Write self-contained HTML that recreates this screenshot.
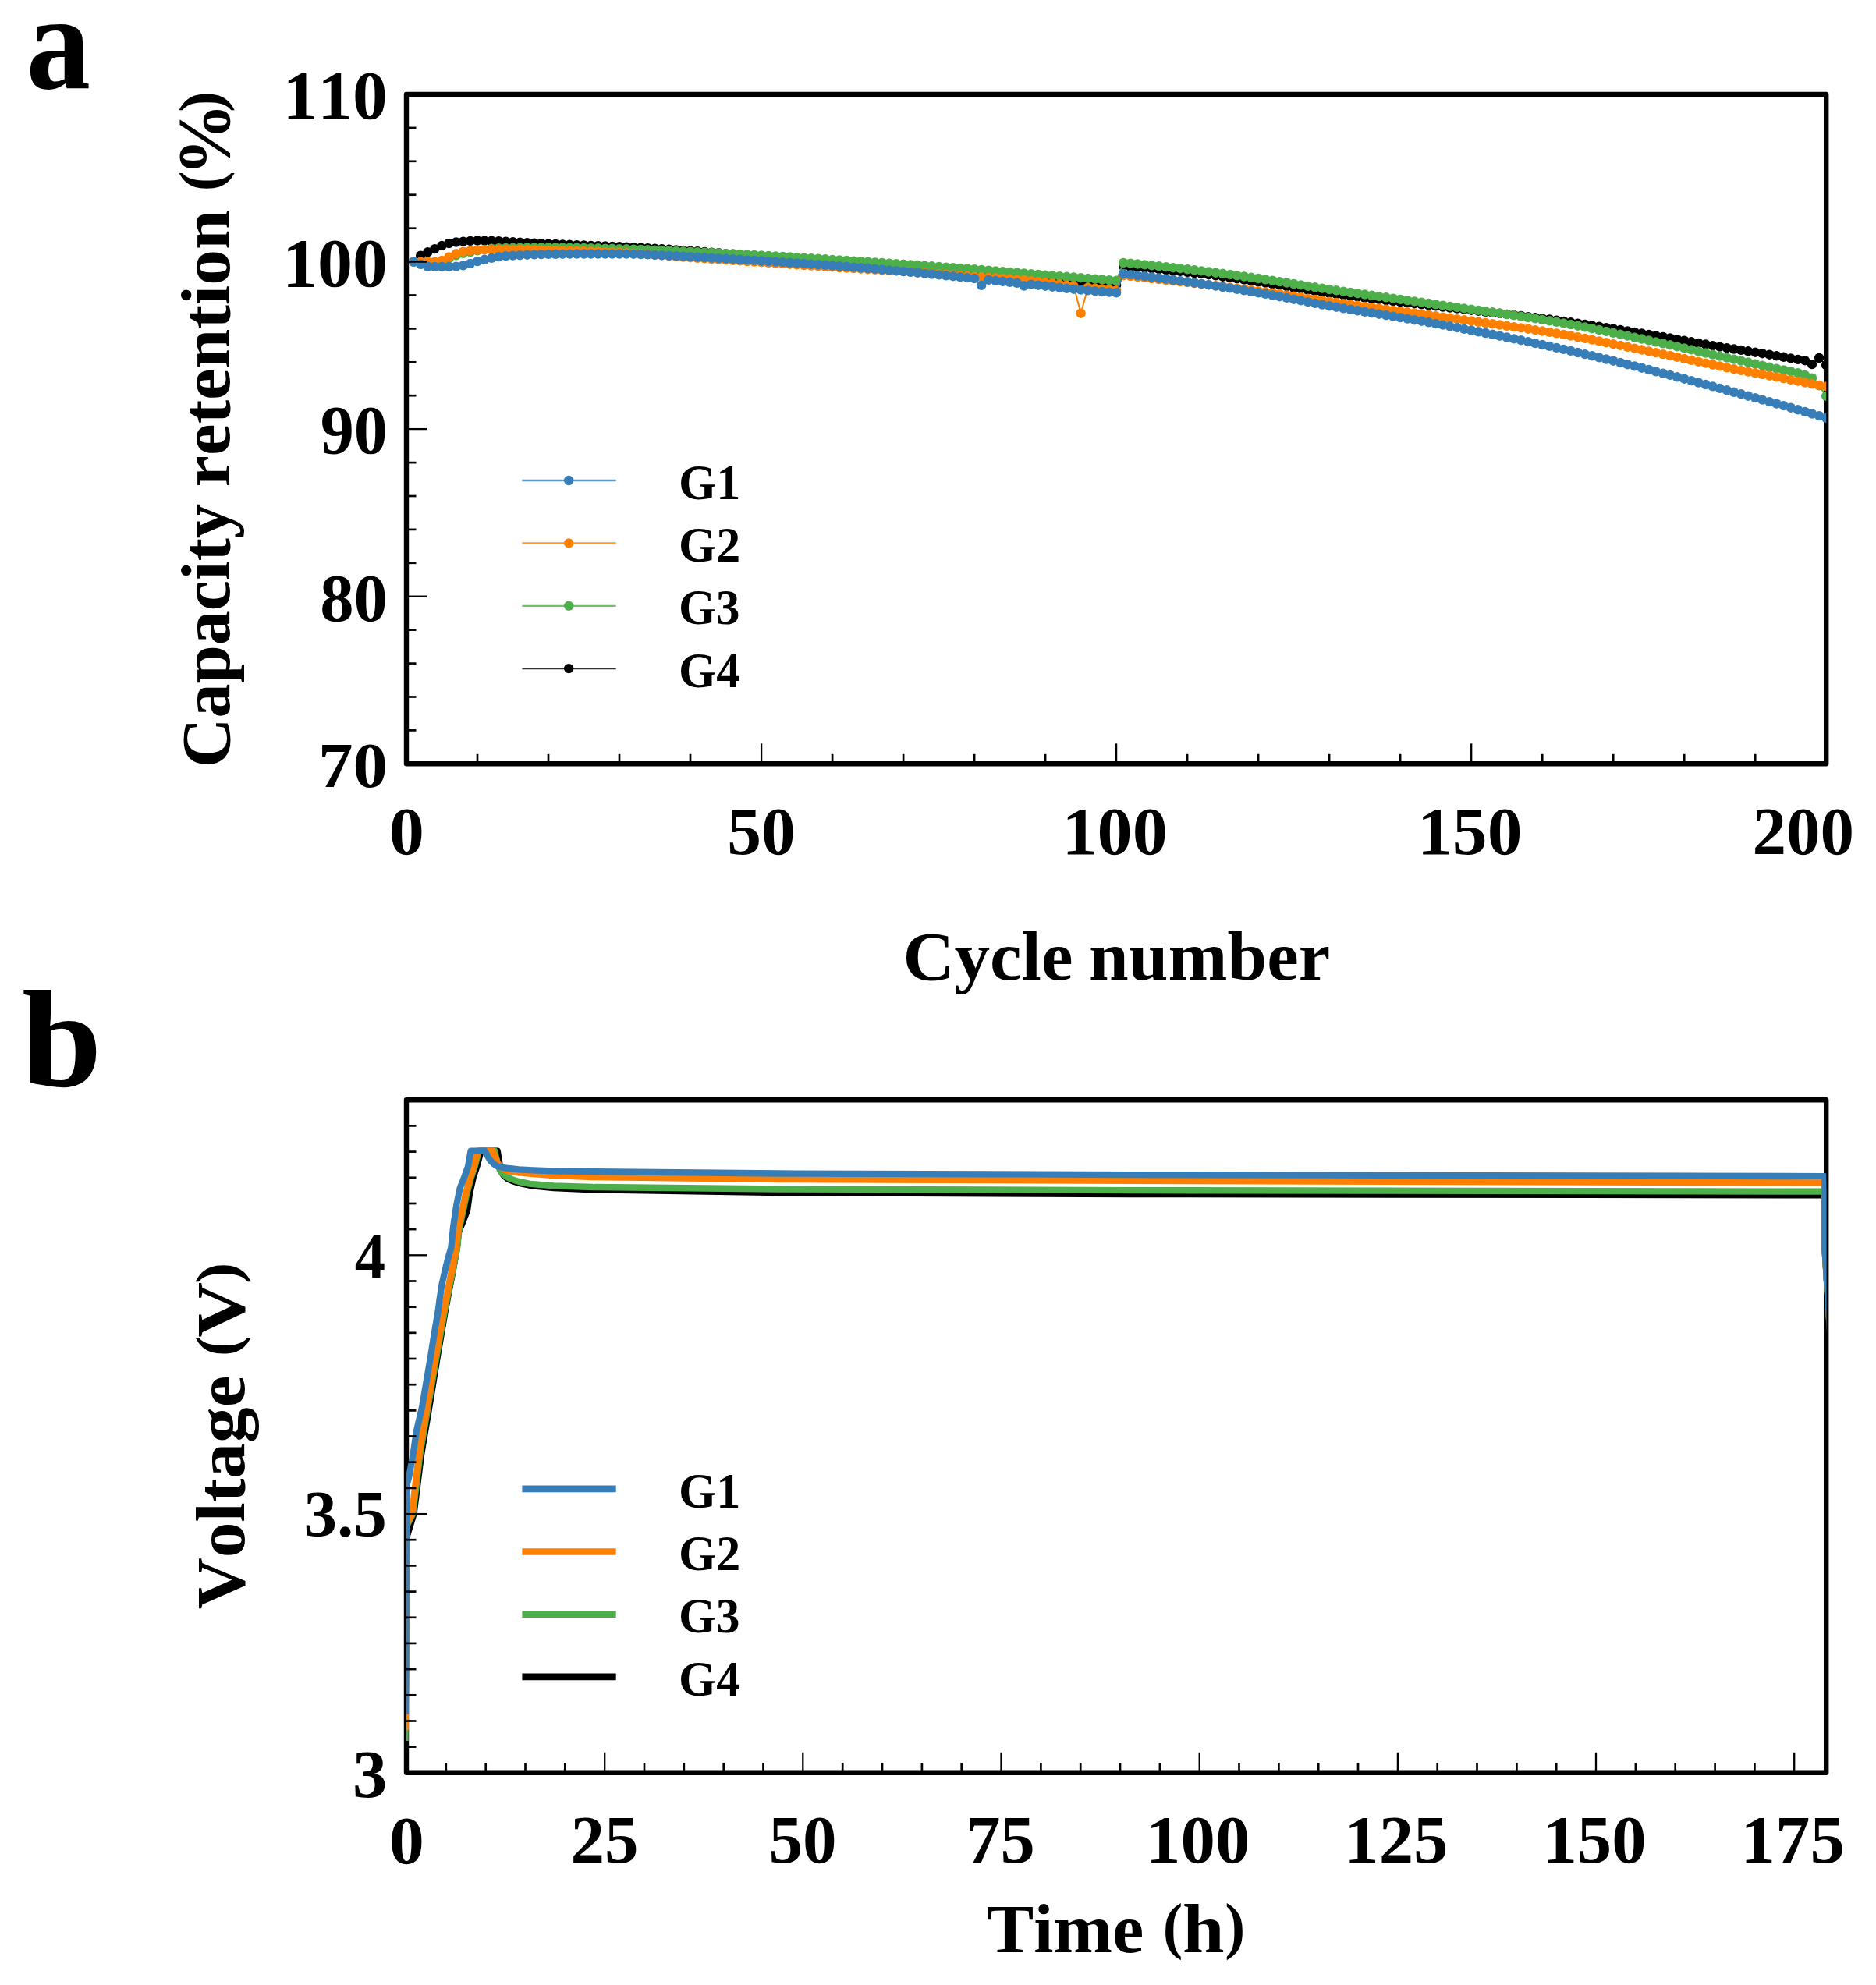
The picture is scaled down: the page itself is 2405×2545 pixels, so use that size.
<!DOCTYPE html>
<html><head><meta charset="utf-8"><title>Figure</title>
<style>html,body{margin:0;padding:0;background:#fff}svg text{font-family:'Liberation Serif', 'DejaVu Serif', serif;font-weight:bold;fill:#000;white-space:pre;font-kerning:none}</style>
</head><body>
<svg width="2405" height="2545" viewBox="0 0 2405 2545" style="display:block">
<rect width="2405" height="2545" fill="#fff"/>
<defs><clipPath id="ca"><rect x="521.0" y="121.0" width="1820.1999999999998" height="858.3"/></clipPath><clipPath id="cb"><rect x="521.0" y="1410.2" width="1820.1999999999998" height="862.6000000000001"/></clipPath></defs>
<rect x="521.0" y="121.0" width="1820.1999999999998" height="858.3" fill="none" stroke="#000" stroke-width="6.4" stroke-linejoin="round"/>
<rect x="521.0" y="1410.2" width="1820.1999999999998" height="862.6000000000001" fill="none" stroke="#000" stroke-width="6.4" stroke-linejoin="round"/>
<g clip-path="url(#ca)"><polyline points="530.1,335.6 539.2,327.6 548.3,323.3 557.4,319.1 566.5,315.0 575.6,312.0 584.7,310.5 593.8,309.6 602.9,308.9 612.0,308.5 621.1,308.6 630.2,308.8 639.3,309.1 648.4,309.7 657.5,310.3 666.6,310.7 675.7,311.2 684.8,311.7 693.9,312.2 703.0,312.6 712.1,313.0 721.2,313.4 730.3,313.8 739.4,314.2 748.5,314.5 757.6,314.9 766.7,315.2 775.8,315.5 784.9,315.9 794.0,316.3 803.1,316.7 812.2,317.1 821.3,317.6 830.4,318.2 839.5,318.7 848.6,319.3 857.7,319.8 866.8,320.4 875.9,321.0 885.0,321.6 894.1,322.3 903.2,322.9 912.3,323.6 921.4,324.3 930.5,325.1 939.6,325.8 948.7,326.5 957.8,327.3 966.9,328.0 976.1,328.7 985.2,329.4 994.3,330.1 1003.4,330.7 1012.5,331.4 1021.6,332.1 1030.7,332.8 1039.8,333.4 1048.9,334.1 1058.0,334.8 1067.1,335.6 1076.2,336.3 1085.3,337.1 1094.4,337.9 1103.5,338.7 1112.6,339.5 1121.7,340.4 1130.8,341.2 1139.9,342.0 1149.0,342.9 1158.1,343.7 1167.2,344.6 1176.3,345.4 1185.4,346.3 1194.5,347.2 1203.6,348.1 1212.7,349.0 1221.8,349.8 1230.9,350.7 1240.0,351.5 1249.1,352.3 1258.2,353.1 1267.3,353.8 1276.4,354.6 1285.5,355.3 1294.6,356.0 1303.7,356.7 1312.8,357.4 1321.9,358.1 1331.0,358.9 1340.1,359.6 1349.2,360.4 1358.3,361.2 1367.4,362.1 1376.5,362.8 1385.6,363.5 1394.7,364.0 1403.8,364.5 1412.9,364.9 1422.0,365.3 1431.1,365.6 1440.2,341.2 1449.3,341.9 1458.4,342.7 1467.5,343.5 1476.6,344.4 1485.7,345.2 1494.8,346.1 1503.9,347.0 1513.0,347.9 1522.1,348.9 1531.2,350.0 1540.3,351.0 1549.4,352.2 1558.5,353.4 1567.6,354.7 1576.7,356.0 1585.8,357.3 1594.9,358.6 1604.0,360.0 1613.1,361.3 1622.2,362.7 1631.3,364.2 1640.4,365.7 1649.5,367.2 1658.6,368.8 1667.7,370.3 1676.8,371.8 1685.9,373.3 1695.0,374.6 1704.1,375.9 1713.2,377.1 1722.3,378.3 1731.4,379.5 1740.5,380.7 1749.6,381.8 1758.7,382.9 1767.8,383.9 1776.9,385.0 1786.0,386.1 1795.1,387.1 1804.2,388.2 1813.3,389.2 1822.4,390.3 1831.5,391.4 1840.6,392.4 1849.7,393.5 1858.8,394.6 1867.9,395.6 1877.0,396.7 1886.2,397.7 1895.3,398.7 1904.4,399.8 1913.5,400.8 1922.6,401.8 1931.7,402.9 1940.8,403.9 1949.9,405.0 1959.0,406.1 1968.1,407.2 1977.2,408.4 1986.3,409.5 1995.4,410.7 2004.5,412.0 2013.6,413.3 2022.7,414.6 2031.8,415.9 2040.9,417.3 2050.0,418.7 2059.1,420.1 2068.2,421.5 2077.3,423.0 2086.4,424.5 2095.5,425.9 2104.6,427.4 2113.7,428.9 2122.8,430.4 2131.9,432.0 2141.0,433.5 2150.1,435.1 2159.2,436.7 2168.3,438.3 2177.4,439.9 2186.5,441.5 2195.6,443.1 2204.7,444.6 2213.8,446.1 2222.9,447.5 2232.0,448.9 2241.1,450.3 2250.2,451.7 2259.3,453.2 2268.4,454.7 2277.5,456.2 2286.6,457.8 2295.7,459.4 2304.8,460.9 2313.9,462.2 2323.0,467.1 2332.1,459.0 2341.2,468.2" fill="none" stroke="#000000" stroke-width="2" stroke-linejoin="round"/>
<g fill="#000000"><circle cx="530.1" cy="335.6" r="6.2"/><circle cx="539.2" cy="327.6" r="6.2"/><circle cx="548.3" cy="323.3" r="6.2"/><circle cx="557.4" cy="319.1" r="6.2"/><circle cx="566.5" cy="315.0" r="6.2"/><circle cx="575.6" cy="312.0" r="6.2"/><circle cx="584.7" cy="310.5" r="6.2"/><circle cx="593.8" cy="309.6" r="6.2"/><circle cx="602.9" cy="308.9" r="6.2"/><circle cx="612.0" cy="308.5" r="6.2"/><circle cx="621.1" cy="308.6" r="6.2"/><circle cx="630.2" cy="308.8" r="6.2"/><circle cx="639.3" cy="309.1" r="6.2"/><circle cx="648.4" cy="309.7" r="6.2"/><circle cx="657.5" cy="310.3" r="6.2"/><circle cx="666.6" cy="310.7" r="6.2"/><circle cx="675.7" cy="311.2" r="6.2"/><circle cx="684.8" cy="311.7" r="6.2"/><circle cx="693.9" cy="312.2" r="6.2"/><circle cx="703.0" cy="312.6" r="6.2"/><circle cx="712.1" cy="313.0" r="6.2"/><circle cx="721.2" cy="313.4" r="6.2"/><circle cx="730.3" cy="313.8" r="6.2"/><circle cx="739.4" cy="314.2" r="6.2"/><circle cx="748.5" cy="314.5" r="6.2"/><circle cx="757.6" cy="314.9" r="6.2"/><circle cx="766.7" cy="315.2" r="6.2"/><circle cx="775.8" cy="315.5" r="6.2"/><circle cx="784.9" cy="315.9" r="6.2"/><circle cx="794.0" cy="316.3" r="6.2"/><circle cx="803.1" cy="316.7" r="6.2"/><circle cx="812.2" cy="317.1" r="6.2"/><circle cx="821.3" cy="317.6" r="6.2"/><circle cx="830.4" cy="318.2" r="6.2"/><circle cx="839.5" cy="318.7" r="6.2"/><circle cx="848.6" cy="319.3" r="6.2"/><circle cx="857.7" cy="319.8" r="6.2"/><circle cx="866.8" cy="320.4" r="6.2"/><circle cx="875.9" cy="321.0" r="6.2"/><circle cx="885.0" cy="321.6" r="6.2"/><circle cx="894.1" cy="322.3" r="6.2"/><circle cx="903.2" cy="322.9" r="6.2"/><circle cx="912.3" cy="323.6" r="6.2"/><circle cx="921.4" cy="324.3" r="6.2"/><circle cx="930.5" cy="325.1" r="6.2"/><circle cx="939.6" cy="325.8" r="6.2"/><circle cx="948.7" cy="326.5" r="6.2"/><circle cx="957.8" cy="327.3" r="6.2"/><circle cx="966.9" cy="328.0" r="6.2"/><circle cx="976.1" cy="328.7" r="6.2"/><circle cx="985.2" cy="329.4" r="6.2"/><circle cx="994.3" cy="330.1" r="6.2"/><circle cx="1003.4" cy="330.7" r="6.2"/><circle cx="1012.5" cy="331.4" r="6.2"/><circle cx="1021.6" cy="332.1" r="6.2"/><circle cx="1030.7" cy="332.8" r="6.2"/><circle cx="1039.8" cy="333.4" r="6.2"/><circle cx="1048.9" cy="334.1" r="6.2"/><circle cx="1058.0" cy="334.8" r="6.2"/><circle cx="1067.1" cy="335.6" r="6.2"/><circle cx="1076.2" cy="336.3" r="6.2"/><circle cx="1085.3" cy="337.1" r="6.2"/><circle cx="1094.4" cy="337.9" r="6.2"/><circle cx="1103.5" cy="338.7" r="6.2"/><circle cx="1112.6" cy="339.5" r="6.2"/><circle cx="1121.7" cy="340.4" r="6.2"/><circle cx="1130.8" cy="341.2" r="6.2"/><circle cx="1139.9" cy="342.0" r="6.2"/><circle cx="1149.0" cy="342.9" r="6.2"/><circle cx="1158.1" cy="343.7" r="6.2"/><circle cx="1167.2" cy="344.6" r="6.2"/><circle cx="1176.3" cy="345.4" r="6.2"/><circle cx="1185.4" cy="346.3" r="6.2"/><circle cx="1194.5" cy="347.2" r="6.2"/><circle cx="1203.6" cy="348.1" r="6.2"/><circle cx="1212.7" cy="349.0" r="6.2"/><circle cx="1221.8" cy="349.8" r="6.2"/><circle cx="1230.9" cy="350.7" r="6.2"/><circle cx="1240.0" cy="351.5" r="6.2"/><circle cx="1249.1" cy="352.3" r="6.2"/><circle cx="1258.2" cy="353.1" r="6.2"/><circle cx="1267.3" cy="353.8" r="6.2"/><circle cx="1276.4" cy="354.6" r="6.2"/><circle cx="1285.5" cy="355.3" r="6.2"/><circle cx="1294.6" cy="356.0" r="6.2"/><circle cx="1303.7" cy="356.7" r="6.2"/><circle cx="1312.8" cy="357.4" r="6.2"/><circle cx="1321.9" cy="358.1" r="6.2"/><circle cx="1331.0" cy="358.9" r="6.2"/><circle cx="1340.1" cy="359.6" r="6.2"/><circle cx="1349.2" cy="360.4" r="6.2"/><circle cx="1358.3" cy="361.2" r="6.2"/><circle cx="1367.4" cy="362.1" r="6.2"/><circle cx="1376.5" cy="362.8" r="6.2"/><circle cx="1385.6" cy="363.5" r="6.2"/><circle cx="1394.7" cy="364.0" r="6.2"/><circle cx="1403.8" cy="364.5" r="6.2"/><circle cx="1412.9" cy="364.9" r="6.2"/><circle cx="1422.0" cy="365.3" r="6.2"/><circle cx="1431.1" cy="365.6" r="6.2"/><circle cx="1440.2" cy="341.2" r="6.2"/><circle cx="1449.3" cy="341.9" r="6.2"/><circle cx="1458.4" cy="342.7" r="6.2"/><circle cx="1467.5" cy="343.5" r="6.2"/><circle cx="1476.6" cy="344.4" r="6.2"/><circle cx="1485.7" cy="345.2" r="6.2"/><circle cx="1494.8" cy="346.1" r="6.2"/><circle cx="1503.9" cy="347.0" r="6.2"/><circle cx="1513.0" cy="347.9" r="6.2"/><circle cx="1522.1" cy="348.9" r="6.2"/><circle cx="1531.2" cy="350.0" r="6.2"/><circle cx="1540.3" cy="351.0" r="6.2"/><circle cx="1549.4" cy="352.2" r="6.2"/><circle cx="1558.5" cy="353.4" r="6.2"/><circle cx="1567.6" cy="354.7" r="6.2"/><circle cx="1576.7" cy="356.0" r="6.2"/><circle cx="1585.8" cy="357.3" r="6.2"/><circle cx="1594.9" cy="358.6" r="6.2"/><circle cx="1604.0" cy="360.0" r="6.2"/><circle cx="1613.1" cy="361.3" r="6.2"/><circle cx="1622.2" cy="362.7" r="6.2"/><circle cx="1631.3" cy="364.2" r="6.2"/><circle cx="1640.4" cy="365.7" r="6.2"/><circle cx="1649.5" cy="367.2" r="6.2"/><circle cx="1658.6" cy="368.8" r="6.2"/><circle cx="1667.7" cy="370.3" r="6.2"/><circle cx="1676.8" cy="371.8" r="6.2"/><circle cx="1685.9" cy="373.3" r="6.2"/><circle cx="1695.0" cy="374.6" r="6.2"/><circle cx="1704.1" cy="375.9" r="6.2"/><circle cx="1713.2" cy="377.1" r="6.2"/><circle cx="1722.3" cy="378.3" r="6.2"/><circle cx="1731.4" cy="379.5" r="6.2"/><circle cx="1740.5" cy="380.7" r="6.2"/><circle cx="1749.6" cy="381.8" r="6.2"/><circle cx="1758.7" cy="382.9" r="6.2"/><circle cx="1767.8" cy="383.9" r="6.2"/><circle cx="1776.9" cy="385.0" r="6.2"/><circle cx="1786.0" cy="386.1" r="6.2"/><circle cx="1795.1" cy="387.1" r="6.2"/><circle cx="1804.2" cy="388.2" r="6.2"/><circle cx="1813.3" cy="389.2" r="6.2"/><circle cx="1822.4" cy="390.3" r="6.2"/><circle cx="1831.5" cy="391.4" r="6.2"/><circle cx="1840.6" cy="392.4" r="6.2"/><circle cx="1849.7" cy="393.5" r="6.2"/><circle cx="1858.8" cy="394.6" r="6.2"/><circle cx="1867.9" cy="395.6" r="6.2"/><circle cx="1877.0" cy="396.7" r="6.2"/><circle cx="1886.2" cy="397.7" r="6.2"/><circle cx="1895.3" cy="398.7" r="6.2"/><circle cx="1904.4" cy="399.8" r="6.2"/><circle cx="1913.5" cy="400.8" r="6.2"/><circle cx="1922.6" cy="401.8" r="6.2"/><circle cx="1931.7" cy="402.9" r="6.2"/><circle cx="1940.8" cy="403.9" r="6.2"/><circle cx="1949.9" cy="405.0" r="6.2"/><circle cx="1959.0" cy="406.1" r="6.2"/><circle cx="1968.1" cy="407.2" r="6.2"/><circle cx="1977.2" cy="408.4" r="6.2"/><circle cx="1986.3" cy="409.5" r="6.2"/><circle cx="1995.4" cy="410.7" r="6.2"/><circle cx="2004.5" cy="412.0" r="6.2"/><circle cx="2013.6" cy="413.3" r="6.2"/><circle cx="2022.7" cy="414.6" r="6.2"/><circle cx="2031.8" cy="415.9" r="6.2"/><circle cx="2040.9" cy="417.3" r="6.2"/><circle cx="2050.0" cy="418.7" r="6.2"/><circle cx="2059.1" cy="420.1" r="6.2"/><circle cx="2068.2" cy="421.5" r="6.2"/><circle cx="2077.3" cy="423.0" r="6.2"/><circle cx="2086.4" cy="424.5" r="6.2"/><circle cx="2095.5" cy="425.9" r="6.2"/><circle cx="2104.6" cy="427.4" r="6.2"/><circle cx="2113.7" cy="428.9" r="6.2"/><circle cx="2122.8" cy="430.4" r="6.2"/><circle cx="2131.9" cy="432.0" r="6.2"/><circle cx="2141.0" cy="433.5" r="6.2"/><circle cx="2150.1" cy="435.1" r="6.2"/><circle cx="2159.2" cy="436.7" r="6.2"/><circle cx="2168.3" cy="438.3" r="6.2"/><circle cx="2177.4" cy="439.9" r="6.2"/><circle cx="2186.5" cy="441.5" r="6.2"/><circle cx="2195.6" cy="443.1" r="6.2"/><circle cx="2204.7" cy="444.6" r="6.2"/><circle cx="2213.8" cy="446.1" r="6.2"/><circle cx="2222.9" cy="447.5" r="6.2"/><circle cx="2232.0" cy="448.9" r="6.2"/><circle cx="2241.1" cy="450.3" r="6.2"/><circle cx="2250.2" cy="451.7" r="6.2"/><circle cx="2259.3" cy="453.2" r="6.2"/><circle cx="2268.4" cy="454.7" r="6.2"/><circle cx="2277.5" cy="456.2" r="6.2"/><circle cx="2286.6" cy="457.8" r="6.2"/><circle cx="2295.7" cy="459.4" r="6.2"/><circle cx="2304.8" cy="460.9" r="6.2"/><circle cx="2313.9" cy="462.2" r="6.2"/><circle cx="2323.0" cy="467.1" r="6.2"/><circle cx="2332.1" cy="459.0" r="6.2"/><circle cx="2341.2" cy="468.2" r="6.2"/></g></g>
<g clip-path="url(#ca)"><polyline points="530.1,335.6 539.2,338.8 548.3,341.6 557.4,338.8 566.5,335.6 575.6,331.3 584.7,327.4 593.8,324.8 602.9,323.1 612.0,321.4 621.1,319.9 630.2,318.8 639.3,318.3 648.4,318.0 657.5,317.8 666.6,317.6 675.7,317.5 684.8,317.4 693.9,317.4 703.0,317.3 712.1,317.4 721.2,317.4 730.3,317.6 739.4,317.7 748.5,317.9 757.6,318.1 766.7,318.3 775.8,318.6 784.9,318.8 794.0,319.1 803.1,319.3 812.2,319.6 821.3,319.9 830.4,320.3 839.5,320.7 848.6,321.0 857.7,321.5 866.8,321.9 875.9,322.3 885.0,322.7 894.1,323.1 903.2,323.6 912.3,324.0 921.4,324.5 930.5,324.9 939.6,325.4 948.7,325.9 957.8,326.4 966.9,326.9 976.1,327.4 985.2,327.9 994.3,328.5 1003.4,329.0 1012.5,329.5 1021.6,330.1 1030.7,330.6 1039.8,331.2 1048.9,331.7 1058.0,332.3 1067.1,332.9 1076.2,333.4 1085.3,334.0 1094.4,334.6 1103.5,335.2 1112.6,335.8 1121.7,336.4 1130.8,337.0 1139.9,337.6 1149.0,338.2 1158.1,338.8 1167.2,339.4 1176.3,340.0 1185.4,340.7 1194.5,341.3 1203.6,341.9 1212.7,342.6 1221.8,343.2 1230.9,343.9 1240.0,344.5 1249.1,345.2 1258.2,345.9 1267.3,346.7 1276.4,347.4 1285.5,348.2 1294.6,349.0 1303.7,349.7 1312.8,350.5 1321.9,351.3 1331.0,352.0 1340.1,352.7 1349.2,353.4 1358.3,354.1 1367.4,354.8 1376.5,355.5 1385.6,356.2 1394.7,356.9 1403.8,357.6 1412.9,358.3 1422.0,359.1 1431.1,359.8 1440.2,336.9 1449.3,337.7 1458.4,338.5 1467.5,339.4 1476.6,340.3 1485.7,341.2 1494.8,342.2 1503.9,343.2 1513.0,344.2 1522.1,345.2 1531.2,346.3 1540.3,347.4 1549.4,348.5 1558.5,349.7 1567.6,350.8 1576.7,352.0 1585.8,353.3 1594.9,354.5 1604.0,355.8 1613.1,357.0 1622.2,358.3 1631.3,359.7 1640.4,361.1 1649.5,362.5 1658.6,364.0 1667.7,365.4 1676.8,366.9 1685.9,368.3 1695.0,369.7 1704.1,371.0 1713.2,372.3 1722.3,373.7 1731.4,375.0 1740.5,376.2 1749.6,377.5 1758.7,378.8 1767.8,380.1 1776.9,381.3 1786.0,382.6 1795.1,383.9 1804.2,385.1 1813.3,386.4 1822.4,387.7 1831.5,389.0 1840.6,390.3 1849.7,391.6 1858.8,392.9 1867.9,394.1 1877.0,395.4 1886.2,396.6 1895.3,397.9 1904.4,399.2 1913.5,400.4 1922.6,401.7 1931.7,403.0 1940.8,404.3 1949.9,405.6 1959.0,407.0 1968.1,408.4 1977.2,409.8 1986.3,411.3 1995.4,412.8 2004.5,414.4 2013.6,416.0 2022.7,417.7 2031.8,419.4 2040.9,421.2 2050.0,423.0 2059.1,424.9 2068.2,426.8 2077.3,428.7 2086.4,430.6 2095.5,432.6 2104.6,434.5 2113.7,436.4 2122.8,438.4 2131.9,440.3 2141.0,442.3 2150.1,444.4 2159.2,446.4 2168.3,448.4 2177.4,450.5 2186.5,452.5 2195.6,454.6 2204.7,456.6 2213.8,458.6 2222.9,460.6 2232.0,462.6 2241.1,464.5 2250.2,466.6 2259.3,468.6 2268.4,470.8 2277.5,472.7 2286.6,474.4 2295.7,476.1 2304.8,478.2 2313.9,480.9 2323.0,484.7 2332.1,494.4 2341.2,507.9" fill="none" stroke="#4daf4a" stroke-width="2" stroke-linejoin="round"/>
<g fill="#4daf4a"><circle cx="530.1" cy="335.6" r="6.2"/><circle cx="539.2" cy="338.8" r="6.2"/><circle cx="548.3" cy="341.6" r="6.2"/><circle cx="557.4" cy="338.8" r="6.2"/><circle cx="566.5" cy="335.6" r="6.2"/><circle cx="575.6" cy="331.3" r="6.2"/><circle cx="584.7" cy="327.4" r="6.2"/><circle cx="593.8" cy="324.8" r="6.2"/><circle cx="602.9" cy="323.1" r="6.2"/><circle cx="612.0" cy="321.4" r="6.2"/><circle cx="621.1" cy="319.9" r="6.2"/><circle cx="630.2" cy="318.8" r="6.2"/><circle cx="639.3" cy="318.3" r="6.2"/><circle cx="648.4" cy="318.0" r="6.2"/><circle cx="657.5" cy="317.8" r="6.2"/><circle cx="666.6" cy="317.6" r="6.2"/><circle cx="675.7" cy="317.5" r="6.2"/><circle cx="684.8" cy="317.4" r="6.2"/><circle cx="693.9" cy="317.4" r="6.2"/><circle cx="703.0" cy="317.3" r="6.2"/><circle cx="712.1" cy="317.4" r="6.2"/><circle cx="721.2" cy="317.4" r="6.2"/><circle cx="730.3" cy="317.6" r="6.2"/><circle cx="739.4" cy="317.7" r="6.2"/><circle cx="748.5" cy="317.9" r="6.2"/><circle cx="757.6" cy="318.1" r="6.2"/><circle cx="766.7" cy="318.3" r="6.2"/><circle cx="775.8" cy="318.6" r="6.2"/><circle cx="784.9" cy="318.8" r="6.2"/><circle cx="794.0" cy="319.1" r="6.2"/><circle cx="803.1" cy="319.3" r="6.2"/><circle cx="812.2" cy="319.6" r="6.2"/><circle cx="821.3" cy="319.9" r="6.2"/><circle cx="830.4" cy="320.3" r="6.2"/><circle cx="839.5" cy="320.7" r="6.2"/><circle cx="848.6" cy="321.0" r="6.2"/><circle cx="857.7" cy="321.5" r="6.2"/><circle cx="866.8" cy="321.9" r="6.2"/><circle cx="875.9" cy="322.3" r="6.2"/><circle cx="885.0" cy="322.7" r="6.2"/><circle cx="894.1" cy="323.1" r="6.2"/><circle cx="903.2" cy="323.6" r="6.2"/><circle cx="912.3" cy="324.0" r="6.2"/><circle cx="921.4" cy="324.5" r="6.2"/><circle cx="930.5" cy="324.9" r="6.2"/><circle cx="939.6" cy="325.4" r="6.2"/><circle cx="948.7" cy="325.9" r="6.2"/><circle cx="957.8" cy="326.4" r="6.2"/><circle cx="966.9" cy="326.9" r="6.2"/><circle cx="976.1" cy="327.4" r="6.2"/><circle cx="985.2" cy="327.9" r="6.2"/><circle cx="994.3" cy="328.5" r="6.2"/><circle cx="1003.4" cy="329.0" r="6.2"/><circle cx="1012.5" cy="329.5" r="6.2"/><circle cx="1021.6" cy="330.1" r="6.2"/><circle cx="1030.7" cy="330.6" r="6.2"/><circle cx="1039.8" cy="331.2" r="6.2"/><circle cx="1048.9" cy="331.7" r="6.2"/><circle cx="1058.0" cy="332.3" r="6.2"/><circle cx="1067.1" cy="332.9" r="6.2"/><circle cx="1076.2" cy="333.4" r="6.2"/><circle cx="1085.3" cy="334.0" r="6.2"/><circle cx="1094.4" cy="334.6" r="6.2"/><circle cx="1103.5" cy="335.2" r="6.2"/><circle cx="1112.6" cy="335.8" r="6.2"/><circle cx="1121.7" cy="336.4" r="6.2"/><circle cx="1130.8" cy="337.0" r="6.2"/><circle cx="1139.9" cy="337.6" r="6.2"/><circle cx="1149.0" cy="338.2" r="6.2"/><circle cx="1158.1" cy="338.8" r="6.2"/><circle cx="1167.2" cy="339.4" r="6.2"/><circle cx="1176.3" cy="340.0" r="6.2"/><circle cx="1185.4" cy="340.7" r="6.2"/><circle cx="1194.5" cy="341.3" r="6.2"/><circle cx="1203.6" cy="341.9" r="6.2"/><circle cx="1212.7" cy="342.6" r="6.2"/><circle cx="1221.8" cy="343.2" r="6.2"/><circle cx="1230.9" cy="343.9" r="6.2"/><circle cx="1240.0" cy="344.5" r="6.2"/><circle cx="1249.1" cy="345.2" r="6.2"/><circle cx="1258.2" cy="345.9" r="6.2"/><circle cx="1267.3" cy="346.7" r="6.2"/><circle cx="1276.4" cy="347.4" r="6.2"/><circle cx="1285.5" cy="348.2" r="6.2"/><circle cx="1294.6" cy="349.0" r="6.2"/><circle cx="1303.7" cy="349.7" r="6.2"/><circle cx="1312.8" cy="350.5" r="6.2"/><circle cx="1321.9" cy="351.3" r="6.2"/><circle cx="1331.0" cy="352.0" r="6.2"/><circle cx="1340.1" cy="352.7" r="6.2"/><circle cx="1349.2" cy="353.4" r="6.2"/><circle cx="1358.3" cy="354.1" r="6.2"/><circle cx="1367.4" cy="354.8" r="6.2"/><circle cx="1376.5" cy="355.5" r="6.2"/><circle cx="1385.6" cy="356.2" r="6.2"/><circle cx="1394.7" cy="356.9" r="6.2"/><circle cx="1403.8" cy="357.6" r="6.2"/><circle cx="1412.9" cy="358.3" r="6.2"/><circle cx="1422.0" cy="359.1" r="6.2"/><circle cx="1431.1" cy="359.8" r="6.2"/><circle cx="1440.2" cy="336.9" r="6.2"/><circle cx="1449.3" cy="337.7" r="6.2"/><circle cx="1458.4" cy="338.5" r="6.2"/><circle cx="1467.5" cy="339.4" r="6.2"/><circle cx="1476.6" cy="340.3" r="6.2"/><circle cx="1485.7" cy="341.2" r="6.2"/><circle cx="1494.8" cy="342.2" r="6.2"/><circle cx="1503.9" cy="343.2" r="6.2"/><circle cx="1513.0" cy="344.2" r="6.2"/><circle cx="1522.1" cy="345.2" r="6.2"/><circle cx="1531.2" cy="346.3" r="6.2"/><circle cx="1540.3" cy="347.4" r="6.2"/><circle cx="1549.4" cy="348.5" r="6.2"/><circle cx="1558.5" cy="349.7" r="6.2"/><circle cx="1567.6" cy="350.8" r="6.2"/><circle cx="1576.7" cy="352.0" r="6.2"/><circle cx="1585.8" cy="353.3" r="6.2"/><circle cx="1594.9" cy="354.5" r="6.2"/><circle cx="1604.0" cy="355.8" r="6.2"/><circle cx="1613.1" cy="357.0" r="6.2"/><circle cx="1622.2" cy="358.3" r="6.2"/><circle cx="1631.3" cy="359.7" r="6.2"/><circle cx="1640.4" cy="361.1" r="6.2"/><circle cx="1649.5" cy="362.5" r="6.2"/><circle cx="1658.6" cy="364.0" r="6.2"/><circle cx="1667.7" cy="365.4" r="6.2"/><circle cx="1676.8" cy="366.9" r="6.2"/><circle cx="1685.9" cy="368.3" r="6.2"/><circle cx="1695.0" cy="369.7" r="6.2"/><circle cx="1704.1" cy="371.0" r="6.2"/><circle cx="1713.2" cy="372.3" r="6.2"/><circle cx="1722.3" cy="373.7" r="6.2"/><circle cx="1731.4" cy="375.0" r="6.2"/><circle cx="1740.5" cy="376.2" r="6.2"/><circle cx="1749.6" cy="377.5" r="6.2"/><circle cx="1758.7" cy="378.8" r="6.2"/><circle cx="1767.8" cy="380.1" r="6.2"/><circle cx="1776.9" cy="381.3" r="6.2"/><circle cx="1786.0" cy="382.6" r="6.2"/><circle cx="1795.1" cy="383.9" r="6.2"/><circle cx="1804.2" cy="385.1" r="6.2"/><circle cx="1813.3" cy="386.4" r="6.2"/><circle cx="1822.4" cy="387.7" r="6.2"/><circle cx="1831.5" cy="389.0" r="6.2"/><circle cx="1840.6" cy="390.3" r="6.2"/><circle cx="1849.7" cy="391.6" r="6.2"/><circle cx="1858.8" cy="392.9" r="6.2"/><circle cx="1867.9" cy="394.1" r="6.2"/><circle cx="1877.0" cy="395.4" r="6.2"/><circle cx="1886.2" cy="396.6" r="6.2"/><circle cx="1895.3" cy="397.9" r="6.2"/><circle cx="1904.4" cy="399.2" r="6.2"/><circle cx="1913.5" cy="400.4" r="6.2"/><circle cx="1922.6" cy="401.7" r="6.2"/><circle cx="1931.7" cy="403.0" r="6.2"/><circle cx="1940.8" cy="404.3" r="6.2"/><circle cx="1949.9" cy="405.6" r="6.2"/><circle cx="1959.0" cy="407.0" r="6.2"/><circle cx="1968.1" cy="408.4" r="6.2"/><circle cx="1977.2" cy="409.8" r="6.2"/><circle cx="1986.3" cy="411.3" r="6.2"/><circle cx="1995.4" cy="412.8" r="6.2"/><circle cx="2004.5" cy="414.4" r="6.2"/><circle cx="2013.6" cy="416.0" r="6.2"/><circle cx="2022.7" cy="417.7" r="6.2"/><circle cx="2031.8" cy="419.4" r="6.2"/><circle cx="2040.9" cy="421.2" r="6.2"/><circle cx="2050.0" cy="423.0" r="6.2"/><circle cx="2059.1" cy="424.9" r="6.2"/><circle cx="2068.2" cy="426.8" r="6.2"/><circle cx="2077.3" cy="428.7" r="6.2"/><circle cx="2086.4" cy="430.6" r="6.2"/><circle cx="2095.5" cy="432.6" r="6.2"/><circle cx="2104.6" cy="434.5" r="6.2"/><circle cx="2113.7" cy="436.4" r="6.2"/><circle cx="2122.8" cy="438.4" r="6.2"/><circle cx="2131.9" cy="440.3" r="6.2"/><circle cx="2141.0" cy="442.3" r="6.2"/><circle cx="2150.1" cy="444.4" r="6.2"/><circle cx="2159.2" cy="446.4" r="6.2"/><circle cx="2168.3" cy="448.4" r="6.2"/><circle cx="2177.4" cy="450.5" r="6.2"/><circle cx="2186.5" cy="452.5" r="6.2"/><circle cx="2195.6" cy="454.6" r="6.2"/><circle cx="2204.7" cy="456.6" r="6.2"/><circle cx="2213.8" cy="458.6" r="6.2"/><circle cx="2222.9" cy="460.6" r="6.2"/><circle cx="2232.0" cy="462.6" r="6.2"/><circle cx="2241.1" cy="464.5" r="6.2"/><circle cx="2250.2" cy="466.6" r="6.2"/><circle cx="2259.3" cy="468.6" r="6.2"/><circle cx="2268.4" cy="470.8" r="6.2"/><circle cx="2277.5" cy="472.7" r="6.2"/><circle cx="2286.6" cy="474.4" r="6.2"/><circle cx="2295.7" cy="476.1" r="6.2"/><circle cx="2304.8" cy="478.2" r="6.2"/><circle cx="2313.9" cy="480.9" r="6.2"/><circle cx="2323.0" cy="484.7" r="6.2"/><circle cx="2332.1" cy="494.4" r="6.2"/><circle cx="2341.2" cy="507.9" r="6.2"/></g></g>
<g clip-path="url(#ca)"><polyline points="530.1,335.6 539.2,335.6 548.3,335.6 557.4,335.6 566.5,333.9 575.6,329.4 584.7,325.3 593.8,322.7 602.9,321.4 612.0,320.6 621.1,320.4 630.2,320.3 639.3,320.2 648.4,320.1 657.5,320.1 666.6,320.2 675.7,320.3 684.8,320.5 693.9,320.8 703.0,321.0 712.1,321.2 721.2,321.4 730.3,321.6 739.4,321.9 748.5,322.2 757.6,322.4 766.7,322.7 775.8,323.1 784.9,323.4 794.0,323.8 803.1,324.2 812.2,324.7 821.3,325.3 830.4,326.0 839.5,326.7 848.6,327.4 857.7,328.2 866.8,328.9 875.9,329.6 885.0,330.2 894.1,330.8 903.2,331.4 912.3,332.0 921.4,332.6 930.5,333.2 939.6,333.8 948.7,334.4 957.8,335.0 966.9,335.6 976.1,336.2 985.2,336.8 994.3,337.5 1003.4,338.1 1012.5,338.7 1021.6,339.4 1030.7,340.0 1039.8,340.6 1048.9,341.2 1058.0,341.8 1067.1,342.4 1076.2,343.0 1085.3,343.6 1094.4,344.1 1103.5,344.7 1112.6,345.2 1121.7,345.7 1130.8,346.3 1139.9,346.9 1149.0,347.4 1158.1,348.0 1167.2,348.6 1176.3,349.3 1185.4,349.9 1194.5,350.6 1203.6,351.3 1212.7,351.9 1221.8,352.6 1230.9,353.3 1240.0,354.0 1249.1,354.7 1258.2,355.3 1267.3,355.9 1276.4,356.5 1285.5,357.1 1294.6,357.8 1303.7,358.4 1312.8,359.2 1321.9,360.1 1331.0,361.1 1340.1,362.2 1349.2,363.3 1358.3,364.5 1367.4,365.7 1376.5,366.8 1385.6,401.7 1394.7,368.7 1403.8,369.6 1412.9,370.4 1422.0,371.3 1431.1,372.1 1440.2,353.0 1449.3,354.0 1458.4,355.0 1467.5,356.0 1476.6,357.0 1485.7,358.0 1494.8,359.0 1503.9,360.0 1513.0,361.0 1522.1,362.0 1531.2,363.0 1540.3,364.1 1549.4,365.2 1558.5,366.2 1567.6,367.3 1576.7,368.4 1585.8,369.6 1594.9,370.7 1604.0,371.9 1613.1,373.1 1622.2,374.4 1631.3,375.7 1640.4,377.0 1649.5,378.4 1658.6,379.8 1667.7,381.2 1676.8,382.6 1685.9,384.0 1695.0,385.3 1704.1,386.6 1713.2,387.9 1722.3,389.2 1731.4,390.5 1740.5,391.7 1749.6,392.9 1758.7,394.2 1767.8,395.4 1776.9,396.6 1786.0,397.9 1795.1,399.1 1804.2,400.3 1813.3,401.5 1822.4,402.8 1831.5,404.0 1840.6,405.3 1849.7,406.6 1858.8,407.8 1867.9,409.1 1877.0,410.3 1886.2,411.5 1895.3,412.8 1904.4,414.0 1913.5,415.2 1922.6,416.5 1931.7,417.8 1940.8,419.1 1949.9,420.4 1959.0,421.7 1968.1,423.1 1977.2,424.5 1986.3,425.9 1995.4,427.4 2004.5,428.9 2013.6,430.5 2022.7,432.2 2031.8,433.9 2040.9,435.6 2050.0,437.4 2059.1,439.2 2068.2,441.1 2077.3,442.9 2086.4,444.8 2095.5,446.7 2104.6,448.5 2113.7,450.4 2122.8,452.2 2131.9,454.1 2141.0,456.0 2150.1,457.9 2159.2,459.9 2168.3,461.8 2177.4,463.7 2186.5,465.6 2195.6,467.5 2204.7,469.4 2213.8,471.3 2222.9,473.1 2232.0,474.9 2241.1,476.6 2250.2,478.3 2259.3,480.0 2268.4,481.7 2277.5,483.4 2286.6,485.1 2295.7,486.9 2304.8,488.6 2313.9,490.5 2323.0,492.3 2332.1,493.9 2341.2,495.4" fill="none" stroke="#ff7f00" stroke-width="2" stroke-linejoin="round"/>
<g fill="#ff7f00"><circle cx="530.1" cy="335.6" r="6.2"/><circle cx="539.2" cy="335.6" r="6.2"/><circle cx="548.3" cy="335.6" r="6.2"/><circle cx="557.4" cy="335.6" r="6.2"/><circle cx="566.5" cy="333.9" r="6.2"/><circle cx="575.6" cy="329.4" r="6.2"/><circle cx="584.7" cy="325.3" r="6.2"/><circle cx="593.8" cy="322.7" r="6.2"/><circle cx="602.9" cy="321.4" r="6.2"/><circle cx="612.0" cy="320.6" r="6.2"/><circle cx="621.1" cy="320.4" r="6.2"/><circle cx="630.2" cy="320.3" r="6.2"/><circle cx="639.3" cy="320.2" r="6.2"/><circle cx="648.4" cy="320.1" r="6.2"/><circle cx="657.5" cy="320.1" r="6.2"/><circle cx="666.6" cy="320.2" r="6.2"/><circle cx="675.7" cy="320.3" r="6.2"/><circle cx="684.8" cy="320.5" r="6.2"/><circle cx="693.9" cy="320.8" r="6.2"/><circle cx="703.0" cy="321.0" r="6.2"/><circle cx="712.1" cy="321.2" r="6.2"/><circle cx="721.2" cy="321.4" r="6.2"/><circle cx="730.3" cy="321.6" r="6.2"/><circle cx="739.4" cy="321.9" r="6.2"/><circle cx="748.5" cy="322.2" r="6.2"/><circle cx="757.6" cy="322.4" r="6.2"/><circle cx="766.7" cy="322.7" r="6.2"/><circle cx="775.8" cy="323.1" r="6.2"/><circle cx="784.9" cy="323.4" r="6.2"/><circle cx="794.0" cy="323.8" r="6.2"/><circle cx="803.1" cy="324.2" r="6.2"/><circle cx="812.2" cy="324.7" r="6.2"/><circle cx="821.3" cy="325.3" r="6.2"/><circle cx="830.4" cy="326.0" r="6.2"/><circle cx="839.5" cy="326.7" r="6.2"/><circle cx="848.6" cy="327.4" r="6.2"/><circle cx="857.7" cy="328.2" r="6.2"/><circle cx="866.8" cy="328.9" r="6.2"/><circle cx="875.9" cy="329.6" r="6.2"/><circle cx="885.0" cy="330.2" r="6.2"/><circle cx="894.1" cy="330.8" r="6.2"/><circle cx="903.2" cy="331.4" r="6.2"/><circle cx="912.3" cy="332.0" r="6.2"/><circle cx="921.4" cy="332.6" r="6.2"/><circle cx="930.5" cy="333.2" r="6.2"/><circle cx="939.6" cy="333.8" r="6.2"/><circle cx="948.7" cy="334.4" r="6.2"/><circle cx="957.8" cy="335.0" r="6.2"/><circle cx="966.9" cy="335.6" r="6.2"/><circle cx="976.1" cy="336.2" r="6.2"/><circle cx="985.2" cy="336.8" r="6.2"/><circle cx="994.3" cy="337.5" r="6.2"/><circle cx="1003.4" cy="338.1" r="6.2"/><circle cx="1012.5" cy="338.7" r="6.2"/><circle cx="1021.6" cy="339.4" r="6.2"/><circle cx="1030.7" cy="340.0" r="6.2"/><circle cx="1039.8" cy="340.6" r="6.2"/><circle cx="1048.9" cy="341.2" r="6.2"/><circle cx="1058.0" cy="341.8" r="6.2"/><circle cx="1067.1" cy="342.4" r="6.2"/><circle cx="1076.2" cy="343.0" r="6.2"/><circle cx="1085.3" cy="343.6" r="6.2"/><circle cx="1094.4" cy="344.1" r="6.2"/><circle cx="1103.5" cy="344.7" r="6.2"/><circle cx="1112.6" cy="345.2" r="6.2"/><circle cx="1121.7" cy="345.7" r="6.2"/><circle cx="1130.8" cy="346.3" r="6.2"/><circle cx="1139.9" cy="346.9" r="6.2"/><circle cx="1149.0" cy="347.4" r="6.2"/><circle cx="1158.1" cy="348.0" r="6.2"/><circle cx="1167.2" cy="348.6" r="6.2"/><circle cx="1176.3" cy="349.3" r="6.2"/><circle cx="1185.4" cy="349.9" r="6.2"/><circle cx="1194.5" cy="350.6" r="6.2"/><circle cx="1203.6" cy="351.3" r="6.2"/><circle cx="1212.7" cy="351.9" r="6.2"/><circle cx="1221.8" cy="352.6" r="6.2"/><circle cx="1230.9" cy="353.3" r="6.2"/><circle cx="1240.0" cy="354.0" r="6.2"/><circle cx="1249.1" cy="354.7" r="6.2"/><circle cx="1258.2" cy="355.3" r="6.2"/><circle cx="1267.3" cy="355.9" r="6.2"/><circle cx="1276.4" cy="356.5" r="6.2"/><circle cx="1285.5" cy="357.1" r="6.2"/><circle cx="1294.6" cy="357.8" r="6.2"/><circle cx="1303.7" cy="358.4" r="6.2"/><circle cx="1312.8" cy="359.2" r="6.2"/><circle cx="1321.9" cy="360.1" r="6.2"/><circle cx="1331.0" cy="361.1" r="6.2"/><circle cx="1340.1" cy="362.2" r="6.2"/><circle cx="1349.2" cy="363.3" r="6.2"/><circle cx="1358.3" cy="364.5" r="6.2"/><circle cx="1367.4" cy="365.7" r="6.2"/><circle cx="1376.5" cy="366.8" r="6.2"/><circle cx="1385.6" cy="401.7" r="6.2"/><circle cx="1394.7" cy="368.7" r="6.2"/><circle cx="1403.8" cy="369.6" r="6.2"/><circle cx="1412.9" cy="370.4" r="6.2"/><circle cx="1422.0" cy="371.3" r="6.2"/><circle cx="1431.1" cy="372.1" r="6.2"/><circle cx="1440.2" cy="353.0" r="6.2"/><circle cx="1449.3" cy="354.0" r="6.2"/><circle cx="1458.4" cy="355.0" r="6.2"/><circle cx="1467.5" cy="356.0" r="6.2"/><circle cx="1476.6" cy="357.0" r="6.2"/><circle cx="1485.7" cy="358.0" r="6.2"/><circle cx="1494.8" cy="359.0" r="6.2"/><circle cx="1503.9" cy="360.0" r="6.2"/><circle cx="1513.0" cy="361.0" r="6.2"/><circle cx="1522.1" cy="362.0" r="6.2"/><circle cx="1531.2" cy="363.0" r="6.2"/><circle cx="1540.3" cy="364.1" r="6.2"/><circle cx="1549.4" cy="365.2" r="6.2"/><circle cx="1558.5" cy="366.2" r="6.2"/><circle cx="1567.6" cy="367.3" r="6.2"/><circle cx="1576.7" cy="368.4" r="6.2"/><circle cx="1585.8" cy="369.6" r="6.2"/><circle cx="1594.9" cy="370.7" r="6.2"/><circle cx="1604.0" cy="371.9" r="6.2"/><circle cx="1613.1" cy="373.1" r="6.2"/><circle cx="1622.2" cy="374.4" r="6.2"/><circle cx="1631.3" cy="375.7" r="6.2"/><circle cx="1640.4" cy="377.0" r="6.2"/><circle cx="1649.5" cy="378.4" r="6.2"/><circle cx="1658.6" cy="379.8" r="6.2"/><circle cx="1667.7" cy="381.2" r="6.2"/><circle cx="1676.8" cy="382.6" r="6.2"/><circle cx="1685.9" cy="384.0" r="6.2"/><circle cx="1695.0" cy="385.3" r="6.2"/><circle cx="1704.1" cy="386.6" r="6.2"/><circle cx="1713.2" cy="387.9" r="6.2"/><circle cx="1722.3" cy="389.2" r="6.2"/><circle cx="1731.4" cy="390.5" r="6.2"/><circle cx="1740.5" cy="391.7" r="6.2"/><circle cx="1749.6" cy="392.9" r="6.2"/><circle cx="1758.7" cy="394.2" r="6.2"/><circle cx="1767.8" cy="395.4" r="6.2"/><circle cx="1776.9" cy="396.6" r="6.2"/><circle cx="1786.0" cy="397.9" r="6.2"/><circle cx="1795.1" cy="399.1" r="6.2"/><circle cx="1804.2" cy="400.3" r="6.2"/><circle cx="1813.3" cy="401.5" r="6.2"/><circle cx="1822.4" cy="402.8" r="6.2"/><circle cx="1831.5" cy="404.0" r="6.2"/><circle cx="1840.6" cy="405.3" r="6.2"/><circle cx="1849.7" cy="406.6" r="6.2"/><circle cx="1858.8" cy="407.8" r="6.2"/><circle cx="1867.9" cy="409.1" r="6.2"/><circle cx="1877.0" cy="410.3" r="6.2"/><circle cx="1886.2" cy="411.5" r="6.2"/><circle cx="1895.3" cy="412.8" r="6.2"/><circle cx="1904.4" cy="414.0" r="6.2"/><circle cx="1913.5" cy="415.2" r="6.2"/><circle cx="1922.6" cy="416.5" r="6.2"/><circle cx="1931.7" cy="417.8" r="6.2"/><circle cx="1940.8" cy="419.1" r="6.2"/><circle cx="1949.9" cy="420.4" r="6.2"/><circle cx="1959.0" cy="421.7" r="6.2"/><circle cx="1968.1" cy="423.1" r="6.2"/><circle cx="1977.2" cy="424.5" r="6.2"/><circle cx="1986.3" cy="425.9" r="6.2"/><circle cx="1995.4" cy="427.4" r="6.2"/><circle cx="2004.5" cy="428.9" r="6.2"/><circle cx="2013.6" cy="430.5" r="6.2"/><circle cx="2022.7" cy="432.2" r="6.2"/><circle cx="2031.8" cy="433.9" r="6.2"/><circle cx="2040.9" cy="435.6" r="6.2"/><circle cx="2050.0" cy="437.4" r="6.2"/><circle cx="2059.1" cy="439.2" r="6.2"/><circle cx="2068.2" cy="441.1" r="6.2"/><circle cx="2077.3" cy="442.9" r="6.2"/><circle cx="2086.4" cy="444.8" r="6.2"/><circle cx="2095.5" cy="446.7" r="6.2"/><circle cx="2104.6" cy="448.5" r="6.2"/><circle cx="2113.7" cy="450.4" r="6.2"/><circle cx="2122.8" cy="452.2" r="6.2"/><circle cx="2131.9" cy="454.1" r="6.2"/><circle cx="2141.0" cy="456.0" r="6.2"/><circle cx="2150.1" cy="457.9" r="6.2"/><circle cx="2159.2" cy="459.9" r="6.2"/><circle cx="2168.3" cy="461.8" r="6.2"/><circle cx="2177.4" cy="463.7" r="6.2"/><circle cx="2186.5" cy="465.6" r="6.2"/><circle cx="2195.6" cy="467.5" r="6.2"/><circle cx="2204.7" cy="469.4" r="6.2"/><circle cx="2213.8" cy="471.3" r="6.2"/><circle cx="2222.9" cy="473.1" r="6.2"/><circle cx="2232.0" cy="474.9" r="6.2"/><circle cx="2241.1" cy="476.6" r="6.2"/><circle cx="2250.2" cy="478.3" r="6.2"/><circle cx="2259.3" cy="480.0" r="6.2"/><circle cx="2268.4" cy="481.7" r="6.2"/><circle cx="2277.5" cy="483.4" r="6.2"/><circle cx="2286.6" cy="485.1" r="6.2"/><circle cx="2295.7" cy="486.9" r="6.2"/><circle cx="2304.8" cy="488.6" r="6.2"/><circle cx="2313.9" cy="490.5" r="6.2"/><circle cx="2323.0" cy="492.3" r="6.2"/><circle cx="2332.1" cy="493.9" r="6.2"/><circle cx="2341.2" cy="495.4" r="6.2"/></g></g>
<g clip-path="url(#ca)"><polyline points="530.1,335.6 539.2,338.8 548.3,341.6 557.4,341.9 566.5,342.0 575.6,341.9 584.7,341.6 593.8,340.3 602.9,337.9 612.0,335.1 621.1,332.8 630.2,330.9 639.3,329.1 648.4,328.2 657.5,327.6 666.6,327.2 675.7,326.7 684.8,326.4 693.9,326.1 703.0,325.9 712.1,325.8 721.2,325.7 730.3,325.6 739.4,325.5 748.5,325.5 757.6,325.5 766.7,325.5 775.8,325.5 784.9,325.5 794.0,325.5 803.1,325.6 812.2,325.7 821.3,326.0 830.4,326.4 839.5,326.8 848.6,327.2 857.7,327.7 866.8,328.2 875.9,328.7 885.0,329.1 894.1,329.6 903.2,330.1 912.3,330.6 921.4,331.1 930.5,331.7 939.6,332.2 948.7,332.8 957.8,333.4 966.9,333.9 976.1,334.5 985.2,335.1 994.3,335.6 1003.4,336.2 1012.5,336.8 1021.6,337.4 1030.7,338.0 1039.8,338.6 1048.9,339.2 1058.0,339.8 1067.1,340.5 1076.2,341.2 1085.3,341.8 1094.4,342.6 1103.5,343.3 1112.6,344.0 1121.7,344.8 1130.8,345.6 1139.9,346.4 1149.0,347.2 1158.1,348.0 1167.2,348.9 1176.3,349.7 1185.4,350.6 1194.5,351.5 1203.6,352.4 1212.7,353.3 1221.8,354.2 1230.9,355.2 1240.0,356.1 1249.1,357.0 1258.2,365.8 1267.3,358.9 1276.4,359.9 1285.5,360.8 1294.6,361.8 1303.7,362.8 1312.8,366.5 1321.9,364.7 1331.0,365.7 1340.1,366.7 1349.2,367.7 1358.3,368.7 1367.4,369.8 1376.5,370.7 1385.6,371.6 1394.7,372.4 1403.8,373.2 1412.9,374.0 1422.0,374.6 1431.1,375.3 1440.2,351.0 1449.3,352.1 1458.4,353.1 1467.5,354.2 1476.6,355.3 1485.7,356.5 1494.8,357.6 1503.9,358.8 1513.0,360.1 1522.1,361.3 1531.2,362.6 1540.3,363.9 1549.4,365.2 1558.5,366.6 1567.6,368.0 1576.7,369.4 1585.8,370.8 1594.9,372.3 1604.0,373.8 1613.1,375.3 1622.2,376.8 1631.3,378.5 1640.4,380.2 1649.5,381.9 1658.6,383.7 1667.7,385.4 1676.8,387.2 1685.9,388.9 1695.0,390.6 1704.1,392.2 1713.2,393.7 1722.3,395.3 1731.4,396.8 1740.5,398.3 1749.6,399.8 1758.7,401.2 1767.8,402.7 1776.9,404.2 1786.0,405.7 1795.1,407.1 1804.2,408.6 1813.3,410.2 1822.4,411.7 1831.5,413.3 1840.6,415.0 1849.7,416.6 1858.8,418.3 1867.9,420.0 1877.0,421.8 1886.2,423.5 1895.3,425.3 1904.4,427.0 1913.5,428.8 1922.6,430.7 1931.7,432.5 1940.8,434.4 1949.9,436.2 1959.0,438.1 1968.1,440.1 1977.2,442.0 1986.3,443.9 1995.4,445.9 2004.5,447.9 2013.6,449.9 2022.7,452.0 2031.8,454.1 2040.9,456.2 2050.0,458.4 2059.1,460.5 2068.2,462.7 2077.3,465.0 2086.4,467.2 2095.5,469.4 2104.6,471.7 2113.7,474.0 2122.8,476.3 2131.9,478.6 2141.0,480.9 2150.1,483.3 2159.2,485.7 2168.3,488.1 2177.4,490.5 2186.5,493.0 2195.6,495.4 2204.7,497.9 2213.8,500.3 2222.9,502.8 2232.0,505.2 2241.1,507.7 2250.2,510.1 2259.3,512.6 2268.4,515.1 2277.5,517.6 2286.6,520.1 2295.7,522.7 2304.8,525.3 2313.9,527.9 2323.0,530.5 2332.1,533.1 2341.2,535.8" fill="none" stroke="#377eb8" stroke-width="2" stroke-linejoin="round"/>
<g fill="#377eb8"><circle cx="530.1" cy="335.6" r="6.2"/><circle cx="539.2" cy="338.8" r="6.2"/><circle cx="548.3" cy="341.6" r="6.2"/><circle cx="557.4" cy="341.9" r="6.2"/><circle cx="566.5" cy="342.0" r="6.2"/><circle cx="575.6" cy="341.9" r="6.2"/><circle cx="584.7" cy="341.6" r="6.2"/><circle cx="593.8" cy="340.3" r="6.2"/><circle cx="602.9" cy="337.9" r="6.2"/><circle cx="612.0" cy="335.1" r="6.2"/><circle cx="621.1" cy="332.8" r="6.2"/><circle cx="630.2" cy="330.9" r="6.2"/><circle cx="639.3" cy="329.1" r="6.2"/><circle cx="648.4" cy="328.2" r="6.2"/><circle cx="657.5" cy="327.6" r="6.2"/><circle cx="666.6" cy="327.2" r="6.2"/><circle cx="675.7" cy="326.7" r="6.2"/><circle cx="684.8" cy="326.4" r="6.2"/><circle cx="693.9" cy="326.1" r="6.2"/><circle cx="703.0" cy="325.9" r="6.2"/><circle cx="712.1" cy="325.8" r="6.2"/><circle cx="721.2" cy="325.7" r="6.2"/><circle cx="730.3" cy="325.6" r="6.2"/><circle cx="739.4" cy="325.5" r="6.2"/><circle cx="748.5" cy="325.5" r="6.2"/><circle cx="757.6" cy="325.5" r="6.2"/><circle cx="766.7" cy="325.5" r="6.2"/><circle cx="775.8" cy="325.5" r="6.2"/><circle cx="784.9" cy="325.5" r="6.2"/><circle cx="794.0" cy="325.5" r="6.2"/><circle cx="803.1" cy="325.6" r="6.2"/><circle cx="812.2" cy="325.7" r="6.2"/><circle cx="821.3" cy="326.0" r="6.2"/><circle cx="830.4" cy="326.4" r="6.2"/><circle cx="839.5" cy="326.8" r="6.2"/><circle cx="848.6" cy="327.2" r="6.2"/><circle cx="857.7" cy="327.7" r="6.2"/><circle cx="866.8" cy="328.2" r="6.2"/><circle cx="875.9" cy="328.7" r="6.2"/><circle cx="885.0" cy="329.1" r="6.2"/><circle cx="894.1" cy="329.6" r="6.2"/><circle cx="903.2" cy="330.1" r="6.2"/><circle cx="912.3" cy="330.6" r="6.2"/><circle cx="921.4" cy="331.1" r="6.2"/><circle cx="930.5" cy="331.7" r="6.2"/><circle cx="939.6" cy="332.2" r="6.2"/><circle cx="948.7" cy="332.8" r="6.2"/><circle cx="957.8" cy="333.4" r="6.2"/><circle cx="966.9" cy="333.9" r="6.2"/><circle cx="976.1" cy="334.5" r="6.2"/><circle cx="985.2" cy="335.1" r="6.2"/><circle cx="994.3" cy="335.6" r="6.2"/><circle cx="1003.4" cy="336.2" r="6.2"/><circle cx="1012.5" cy="336.8" r="6.2"/><circle cx="1021.6" cy="337.4" r="6.2"/><circle cx="1030.7" cy="338.0" r="6.2"/><circle cx="1039.8" cy="338.6" r="6.2"/><circle cx="1048.9" cy="339.2" r="6.2"/><circle cx="1058.0" cy="339.8" r="6.2"/><circle cx="1067.1" cy="340.5" r="6.2"/><circle cx="1076.2" cy="341.2" r="6.2"/><circle cx="1085.3" cy="341.8" r="6.2"/><circle cx="1094.4" cy="342.6" r="6.2"/><circle cx="1103.5" cy="343.3" r="6.2"/><circle cx="1112.6" cy="344.0" r="6.2"/><circle cx="1121.7" cy="344.8" r="6.2"/><circle cx="1130.8" cy="345.6" r="6.2"/><circle cx="1139.9" cy="346.4" r="6.2"/><circle cx="1149.0" cy="347.2" r="6.2"/><circle cx="1158.1" cy="348.0" r="6.2"/><circle cx="1167.2" cy="348.9" r="6.2"/><circle cx="1176.3" cy="349.7" r="6.2"/><circle cx="1185.4" cy="350.6" r="6.2"/><circle cx="1194.5" cy="351.5" r="6.2"/><circle cx="1203.6" cy="352.4" r="6.2"/><circle cx="1212.7" cy="353.3" r="6.2"/><circle cx="1221.8" cy="354.2" r="6.2"/><circle cx="1230.9" cy="355.2" r="6.2"/><circle cx="1240.0" cy="356.1" r="6.2"/><circle cx="1249.1" cy="357.0" r="6.2"/><circle cx="1258.2" cy="365.8" r="6.2"/><circle cx="1267.3" cy="358.9" r="6.2"/><circle cx="1276.4" cy="359.9" r="6.2"/><circle cx="1285.5" cy="360.8" r="6.2"/><circle cx="1294.6" cy="361.8" r="6.2"/><circle cx="1303.7" cy="362.8" r="6.2"/><circle cx="1312.8" cy="366.5" r="6.2"/><circle cx="1321.9" cy="364.7" r="6.2"/><circle cx="1331.0" cy="365.7" r="6.2"/><circle cx="1340.1" cy="366.7" r="6.2"/><circle cx="1349.2" cy="367.7" r="6.2"/><circle cx="1358.3" cy="368.7" r="6.2"/><circle cx="1367.4" cy="369.8" r="6.2"/><circle cx="1376.5" cy="370.7" r="6.2"/><circle cx="1385.6" cy="371.6" r="6.2"/><circle cx="1394.7" cy="372.4" r="6.2"/><circle cx="1403.8" cy="373.2" r="6.2"/><circle cx="1412.9" cy="374.0" r="6.2"/><circle cx="1422.0" cy="374.6" r="6.2"/><circle cx="1431.1" cy="375.3" r="6.2"/><circle cx="1440.2" cy="351.0" r="6.2"/><circle cx="1449.3" cy="352.1" r="6.2"/><circle cx="1458.4" cy="353.1" r="6.2"/><circle cx="1467.5" cy="354.2" r="6.2"/><circle cx="1476.6" cy="355.3" r="6.2"/><circle cx="1485.7" cy="356.5" r="6.2"/><circle cx="1494.8" cy="357.6" r="6.2"/><circle cx="1503.9" cy="358.8" r="6.2"/><circle cx="1513.0" cy="360.1" r="6.2"/><circle cx="1522.1" cy="361.3" r="6.2"/><circle cx="1531.2" cy="362.6" r="6.2"/><circle cx="1540.3" cy="363.9" r="6.2"/><circle cx="1549.4" cy="365.2" r="6.2"/><circle cx="1558.5" cy="366.6" r="6.2"/><circle cx="1567.6" cy="368.0" r="6.2"/><circle cx="1576.7" cy="369.4" r="6.2"/><circle cx="1585.8" cy="370.8" r="6.2"/><circle cx="1594.9" cy="372.3" r="6.2"/><circle cx="1604.0" cy="373.8" r="6.2"/><circle cx="1613.1" cy="375.3" r="6.2"/><circle cx="1622.2" cy="376.8" r="6.2"/><circle cx="1631.3" cy="378.5" r="6.2"/><circle cx="1640.4" cy="380.2" r="6.2"/><circle cx="1649.5" cy="381.9" r="6.2"/><circle cx="1658.6" cy="383.7" r="6.2"/><circle cx="1667.7" cy="385.4" r="6.2"/><circle cx="1676.8" cy="387.2" r="6.2"/><circle cx="1685.9" cy="388.9" r="6.2"/><circle cx="1695.0" cy="390.6" r="6.2"/><circle cx="1704.1" cy="392.2" r="6.2"/><circle cx="1713.2" cy="393.7" r="6.2"/><circle cx="1722.3" cy="395.3" r="6.2"/><circle cx="1731.4" cy="396.8" r="6.2"/><circle cx="1740.5" cy="398.3" r="6.2"/><circle cx="1749.6" cy="399.8" r="6.2"/><circle cx="1758.7" cy="401.2" r="6.2"/><circle cx="1767.8" cy="402.7" r="6.2"/><circle cx="1776.9" cy="404.2" r="6.2"/><circle cx="1786.0" cy="405.7" r="6.2"/><circle cx="1795.1" cy="407.1" r="6.2"/><circle cx="1804.2" cy="408.6" r="6.2"/><circle cx="1813.3" cy="410.2" r="6.2"/><circle cx="1822.4" cy="411.7" r="6.2"/><circle cx="1831.5" cy="413.3" r="6.2"/><circle cx="1840.6" cy="415.0" r="6.2"/><circle cx="1849.7" cy="416.6" r="6.2"/><circle cx="1858.8" cy="418.3" r="6.2"/><circle cx="1867.9" cy="420.0" r="6.2"/><circle cx="1877.0" cy="421.8" r="6.2"/><circle cx="1886.2" cy="423.5" r="6.2"/><circle cx="1895.3" cy="425.3" r="6.2"/><circle cx="1904.4" cy="427.0" r="6.2"/><circle cx="1913.5" cy="428.8" r="6.2"/><circle cx="1922.6" cy="430.7" r="6.2"/><circle cx="1931.7" cy="432.5" r="6.2"/><circle cx="1940.8" cy="434.4" r="6.2"/><circle cx="1949.9" cy="436.2" r="6.2"/><circle cx="1959.0" cy="438.1" r="6.2"/><circle cx="1968.1" cy="440.1" r="6.2"/><circle cx="1977.2" cy="442.0" r="6.2"/><circle cx="1986.3" cy="443.9" r="6.2"/><circle cx="1995.4" cy="445.9" r="6.2"/><circle cx="2004.5" cy="447.9" r="6.2"/><circle cx="2013.6" cy="449.9" r="6.2"/><circle cx="2022.7" cy="452.0" r="6.2"/><circle cx="2031.8" cy="454.1" r="6.2"/><circle cx="2040.9" cy="456.2" r="6.2"/><circle cx="2050.0" cy="458.4" r="6.2"/><circle cx="2059.1" cy="460.5" r="6.2"/><circle cx="2068.2" cy="462.7" r="6.2"/><circle cx="2077.3" cy="465.0" r="6.2"/><circle cx="2086.4" cy="467.2" r="6.2"/><circle cx="2095.5" cy="469.4" r="6.2"/><circle cx="2104.6" cy="471.7" r="6.2"/><circle cx="2113.7" cy="474.0" r="6.2"/><circle cx="2122.8" cy="476.3" r="6.2"/><circle cx="2131.9" cy="478.6" r="6.2"/><circle cx="2141.0" cy="480.9" r="6.2"/><circle cx="2150.1" cy="483.3" r="6.2"/><circle cx="2159.2" cy="485.7" r="6.2"/><circle cx="2168.3" cy="488.1" r="6.2"/><circle cx="2177.4" cy="490.5" r="6.2"/><circle cx="2186.5" cy="493.0" r="6.2"/><circle cx="2195.6" cy="495.4" r="6.2"/><circle cx="2204.7" cy="497.9" r="6.2"/><circle cx="2213.8" cy="500.3" r="6.2"/><circle cx="2222.9" cy="502.8" r="6.2"/><circle cx="2232.0" cy="505.2" r="6.2"/><circle cx="2241.1" cy="507.7" r="6.2"/><circle cx="2250.2" cy="510.1" r="6.2"/><circle cx="2259.3" cy="512.6" r="6.2"/><circle cx="2268.4" cy="515.1" r="6.2"/><circle cx="2277.5" cy="517.6" r="6.2"/><circle cx="2286.6" cy="520.1" r="6.2"/><circle cx="2295.7" cy="522.7" r="6.2"/><circle cx="2304.8" cy="525.3" r="6.2"/><circle cx="2313.9" cy="527.9" r="6.2"/><circle cx="2323.0" cy="530.5" r="6.2"/><circle cx="2332.1" cy="533.1" r="6.2"/><circle cx="2341.2" cy="535.8" r="6.2"/></g></g>
<g clip-path="url(#cb)" fill="none" stroke-linejoin="round">
<polyline points="519.5,2250.0 521.0,1972.0 530.5,1941.0 540.2,1864.3 550.5,1802.9 560.5,1741.4 570.9,1680.0 581.1,1626.6 585.8,1600.0 587.9,1579.9 592.0,1570.0 599.1,1551.7 602.0,1530.5 606.8,1509.4 611.4,1495.3 615.2,1481.2 616.6,1475.6 637.7,1475.6 639.5,1486.0 641.0,1496.0 643.0,1503.0 646.5,1508.0 651.7,1512.0 658.8,1514.8 665.8,1517.0 679.9,1520.0 710.0,1523.0 760.0,1525.4 1000.0,1529.0 1450.0,1531.1 2337.0,1532.3 2339.4,1532.3 2339.4,1600.0 2346.5,1715.0" stroke="#000000" stroke-width="8.3"/>
<polyline points="519.5,2232.0 521.0,1957.0 529.3,1941.0 538.5,1864.3 548.8,1802.9 559.3,1741.4 570.2,1680.0 580.9,1626.6 586.1,1600.0 588.2,1579.9 589.8,1570.0 593.9,1551.7 598.3,1530.5 604.1,1509.4 608.7,1495.3 612.5,1481.2 613.9,1475.6 634.2,1475.6 636.0,1484.0 638.5,1493.0 641.1,1501.0 644.7,1505.2 651.7,1510.2 658.8,1513.0 665.8,1515.1 679.9,1517.9 710.0,1520.3 760.0,1522.0 1000.0,1524.5 1450.0,1526.1 2337.0,1527.7 2339.4,1527.7 2339.4,1600.0 2346.5,1715.0" stroke="#4daf4a" stroke-width="8.3"/>
<polyline points="519.7,2218.0 521.0,1955.0 528.0,1941.0 537.2,1864.3 547.5,1802.9 558.0,1741.4 568.9,1680.0 579.6,1626.6 584.8,1600.0 586.9,1579.9 588.5,1570.0 592.6,1551.7 597.0,1530.5 602.8,1509.4 607.4,1495.3 611.2,1481.2 612.6,1475.6 631.7,1475.6 634.5,1483.0 637.5,1490.0 641.0,1495.5 645.0,1498.8 651.7,1501.5 665.0,1503.4 681.0,1504.8 710.0,1507.0 760.0,1509.0 1000.0,1512.0 1450.0,1513.8 2337.0,1516.4 2339.4,1516.4 2339.4,1600.0 2346.5,1715.0" stroke="#ff7f00" stroke-width="8.3"/>
<polyline points="520.0,2198.0 521.0,1905.0 524.0,1895.1 529.6,1864.3 534.2,1833.6 541.3,1802.9 546.5,1772.2 551.7,1741.4 556.6,1710.7 561.8,1680.0 563.5,1666.5 566.5,1646.6 571.0,1626.6 575.5,1609.2 578.3,1600.0 581.1,1572.9 585.3,1544.7 589.6,1523.5 595.2,1509.4 600.1,1495.3 602.6,1481.2 603.6,1475.6 621.6,1475.6 624.6,1481.3 628.6,1488.0 633.2,1492.4 637.6,1495.2 643.3,1496.6 651.7,1498.0 665.0,1499.4 683.2,1500.4 709.9,1501.3 760.0,1502.2 1000.0,1504.5 1450.0,1506.1 2337.0,1508.1 2339.4,1508.1 2339.4,1600.0 2346.5,1715.0" stroke="#377eb8" stroke-width="8.3"/>
</g>
<line x1="612.0" y1="979.3" x2="612.0" y2="966.8" stroke="#000" stroke-width="2.7"/>
<line x1="703.0" y1="979.3" x2="703.0" y2="966.8" stroke="#000" stroke-width="2.7"/>
<line x1="794.0" y1="979.3" x2="794.0" y2="966.8" stroke="#000" stroke-width="2.7"/>
<line x1="885.0" y1="979.3" x2="885.0" y2="966.8" stroke="#000" stroke-width="2.7"/>
<line x1="1067.1" y1="979.3" x2="1067.1" y2="966.8" stroke="#000" stroke-width="2.7"/>
<line x1="1158.1" y1="979.3" x2="1158.1" y2="966.8" stroke="#000" stroke-width="2.7"/>
<line x1="1249.1" y1="979.3" x2="1249.1" y2="966.8" stroke="#000" stroke-width="2.7"/>
<line x1="1340.1" y1="979.3" x2="1340.1" y2="966.8" stroke="#000" stroke-width="2.7"/>
<line x1="1522.1" y1="979.3" x2="1522.1" y2="966.8" stroke="#000" stroke-width="2.7"/>
<line x1="1613.1" y1="979.3" x2="1613.1" y2="966.8" stroke="#000" stroke-width="2.7"/>
<line x1="1704.1" y1="979.3" x2="1704.1" y2="966.8" stroke="#000" stroke-width="2.7"/>
<line x1="1795.1" y1="979.3" x2="1795.1" y2="966.8" stroke="#000" stroke-width="2.7"/>
<line x1="1977.2" y1="979.3" x2="1977.2" y2="966.8" stroke="#000" stroke-width="2.7"/>
<line x1="2068.2" y1="979.3" x2="2068.2" y2="966.8" stroke="#000" stroke-width="2.7"/>
<line x1="2159.2" y1="979.3" x2="2159.2" y2="966.8" stroke="#000" stroke-width="2.7"/>
<line x1="2250.2" y1="979.3" x2="2250.2" y2="966.8" stroke="#000" stroke-width="2.7"/>
<line x1="976.1" y1="979.3" x2="976.1" y2="953.3" stroke="#000" stroke-width="2.3"/>
<line x1="1431.1" y1="979.3" x2="1431.1" y2="953.3" stroke="#000" stroke-width="2.3"/>
<line x1="1886.2" y1="979.3" x2="1886.2" y2="953.3" stroke="#000" stroke-width="2.3"/>
<line x1="521.0" y1="936.4" x2="533.5" y2="936.4" stroke="#000" stroke-width="2.7"/>
<line x1="521.0" y1="893.5" x2="533.5" y2="893.5" stroke="#000" stroke-width="2.7"/>
<line x1="521.0" y1="850.6" x2="533.5" y2="850.6" stroke="#000" stroke-width="2.7"/>
<line x1="521.0" y1="807.6" x2="533.5" y2="807.6" stroke="#000" stroke-width="2.7"/>
<line x1="521.0" y1="721.8" x2="533.5" y2="721.8" stroke="#000" stroke-width="2.7"/>
<line x1="521.0" y1="678.9" x2="533.5" y2="678.9" stroke="#000" stroke-width="2.7"/>
<line x1="521.0" y1="636.0" x2="533.5" y2="636.0" stroke="#000" stroke-width="2.7"/>
<line x1="521.0" y1="593.1" x2="533.5" y2="593.1" stroke="#000" stroke-width="2.7"/>
<line x1="521.0" y1="507.2" x2="533.5" y2="507.2" stroke="#000" stroke-width="2.7"/>
<line x1="521.0" y1="464.3" x2="533.5" y2="464.3" stroke="#000" stroke-width="2.7"/>
<line x1="521.0" y1="421.4" x2="533.5" y2="421.4" stroke="#000" stroke-width="2.7"/>
<line x1="521.0" y1="378.5" x2="533.5" y2="378.5" stroke="#000" stroke-width="2.7"/>
<line x1="521.0" y1="292.7" x2="533.5" y2="292.7" stroke="#000" stroke-width="2.7"/>
<line x1="521.0" y1="249.7" x2="533.5" y2="249.7" stroke="#000" stroke-width="2.7"/>
<line x1="521.0" y1="206.8" x2="533.5" y2="206.8" stroke="#000" stroke-width="2.7"/>
<line x1="521.0" y1="163.9" x2="533.5" y2="163.9" stroke="#000" stroke-width="2.7"/>
<line x1="521.0" y1="764.7" x2="547.0" y2="764.7" stroke="#000" stroke-width="2.3"/>
<line x1="521.0" y1="550.1" x2="547.0" y2="550.1" stroke="#000" stroke-width="2.3"/>
<line x1="521.0" y1="335.6" x2="547.0" y2="335.6" stroke="#000" stroke-width="2.3"/>
<line x1="571.8" y1="2272.8" x2="571.8" y2="2260.3" stroke="#000" stroke-width="2.7"/>
<line x1="622.7" y1="2272.8" x2="622.7" y2="2260.3" stroke="#000" stroke-width="2.7"/>
<line x1="673.5" y1="2272.8" x2="673.5" y2="2260.3" stroke="#000" stroke-width="2.7"/>
<line x1="724.3" y1="2272.8" x2="724.3" y2="2260.3" stroke="#000" stroke-width="2.7"/>
<line x1="826.0" y1="2272.8" x2="826.0" y2="2260.3" stroke="#000" stroke-width="2.7"/>
<line x1="876.8" y1="2272.8" x2="876.8" y2="2260.3" stroke="#000" stroke-width="2.7"/>
<line x1="927.7" y1="2272.8" x2="927.7" y2="2260.3" stroke="#000" stroke-width="2.7"/>
<line x1="978.5" y1="2272.8" x2="978.5" y2="2260.3" stroke="#000" stroke-width="2.7"/>
<line x1="1080.2" y1="2272.8" x2="1080.2" y2="2260.3" stroke="#000" stroke-width="2.7"/>
<line x1="1131.0" y1="2272.8" x2="1131.0" y2="2260.3" stroke="#000" stroke-width="2.7"/>
<line x1="1181.9" y1="2272.8" x2="1181.9" y2="2260.3" stroke="#000" stroke-width="2.7"/>
<line x1="1232.7" y1="2272.8" x2="1232.7" y2="2260.3" stroke="#000" stroke-width="2.7"/>
<line x1="1334.4" y1="2272.8" x2="1334.4" y2="2260.3" stroke="#000" stroke-width="2.7"/>
<line x1="1385.2" y1="2272.8" x2="1385.2" y2="2260.3" stroke="#000" stroke-width="2.7"/>
<line x1="1436.0" y1="2272.8" x2="1436.0" y2="2260.3" stroke="#000" stroke-width="2.7"/>
<line x1="1486.9" y1="2272.8" x2="1486.9" y2="2260.3" stroke="#000" stroke-width="2.7"/>
<line x1="1588.5" y1="2272.8" x2="1588.5" y2="2260.3" stroke="#000" stroke-width="2.7"/>
<line x1="1639.4" y1="2272.8" x2="1639.4" y2="2260.3" stroke="#000" stroke-width="2.7"/>
<line x1="1690.2" y1="2272.8" x2="1690.2" y2="2260.3" stroke="#000" stroke-width="2.7"/>
<line x1="1741.0" y1="2272.8" x2="1741.0" y2="2260.3" stroke="#000" stroke-width="2.7"/>
<line x1="1842.7" y1="2272.8" x2="1842.7" y2="2260.3" stroke="#000" stroke-width="2.7"/>
<line x1="1893.5" y1="2272.8" x2="1893.5" y2="2260.3" stroke="#000" stroke-width="2.7"/>
<line x1="1944.4" y1="2272.8" x2="1944.4" y2="2260.3" stroke="#000" stroke-width="2.7"/>
<line x1="1995.2" y1="2272.8" x2="1995.2" y2="2260.3" stroke="#000" stroke-width="2.7"/>
<line x1="2096.9" y1="2272.8" x2="2096.9" y2="2260.3" stroke="#000" stroke-width="2.7"/>
<line x1="2147.7" y1="2272.8" x2="2147.7" y2="2260.3" stroke="#000" stroke-width="2.7"/>
<line x1="2198.6" y1="2272.8" x2="2198.6" y2="2260.3" stroke="#000" stroke-width="2.7"/>
<line x1="2249.4" y1="2272.8" x2="2249.4" y2="2260.3" stroke="#000" stroke-width="2.7"/>
<line x1="775.2" y1="2272.8" x2="775.2" y2="2246.8" stroke="#000" stroke-width="2.3"/>
<line x1="1029.3" y1="2272.8" x2="1029.3" y2="2246.8" stroke="#000" stroke-width="2.3"/>
<line x1="1283.5" y1="2272.8" x2="1283.5" y2="2246.8" stroke="#000" stroke-width="2.3"/>
<line x1="1537.7" y1="2272.8" x2="1537.7" y2="2246.8" stroke="#000" stroke-width="2.3"/>
<line x1="1791.9" y1="2272.8" x2="1791.9" y2="2246.8" stroke="#000" stroke-width="2.3"/>
<line x1="2046.0" y1="2272.8" x2="2046.0" y2="2246.8" stroke="#000" stroke-width="2.3"/>
<line x1="2300.2" y1="2272.8" x2="2300.2" y2="2246.8" stroke="#000" stroke-width="2.3"/>
<line x1="521.0" y1="2239.6" x2="533.5" y2="2239.6" stroke="#000" stroke-width="2.7"/>
<line x1="521.0" y1="2206.5" x2="533.5" y2="2206.5" stroke="#000" stroke-width="2.7"/>
<line x1="521.0" y1="2173.3" x2="533.5" y2="2173.3" stroke="#000" stroke-width="2.7"/>
<line x1="521.0" y1="2140.1" x2="533.5" y2="2140.1" stroke="#000" stroke-width="2.7"/>
<line x1="521.0" y1="2106.9" x2="533.5" y2="2106.9" stroke="#000" stroke-width="2.7"/>
<line x1="521.0" y1="2073.8" x2="533.5" y2="2073.8" stroke="#000" stroke-width="2.7"/>
<line x1="521.0" y1="2040.6" x2="533.5" y2="2040.6" stroke="#000" stroke-width="2.7"/>
<line x1="521.0" y1="2007.4" x2="533.5" y2="2007.4" stroke="#000" stroke-width="2.7"/>
<line x1="521.0" y1="1974.2" x2="533.5" y2="1974.2" stroke="#000" stroke-width="2.7"/>
<line x1="521.0" y1="1907.9" x2="533.5" y2="1907.9" stroke="#000" stroke-width="2.7"/>
<line x1="521.0" y1="1874.7" x2="533.5" y2="1874.7" stroke="#000" stroke-width="2.7"/>
<line x1="521.0" y1="1841.5" x2="533.5" y2="1841.5" stroke="#000" stroke-width="2.7"/>
<line x1="521.0" y1="1808.4" x2="533.5" y2="1808.4" stroke="#000" stroke-width="2.7"/>
<line x1="521.0" y1="1775.2" x2="533.5" y2="1775.2" stroke="#000" stroke-width="2.7"/>
<line x1="521.0" y1="1742.0" x2="533.5" y2="1742.0" stroke="#000" stroke-width="2.7"/>
<line x1="521.0" y1="1708.8" x2="533.5" y2="1708.8" stroke="#000" stroke-width="2.7"/>
<line x1="521.0" y1="1675.7" x2="533.5" y2="1675.7" stroke="#000" stroke-width="2.7"/>
<line x1="521.0" y1="1642.5" x2="533.5" y2="1642.5" stroke="#000" stroke-width="2.7"/>
<line x1="521.0" y1="1576.1" x2="533.5" y2="1576.1" stroke="#000" stroke-width="2.7"/>
<line x1="521.0" y1="1543.0" x2="533.5" y2="1543.0" stroke="#000" stroke-width="2.7"/>
<line x1="521.0" y1="1509.8" x2="533.5" y2="1509.8" stroke="#000" stroke-width="2.7"/>
<line x1="521.0" y1="1476.6" x2="533.5" y2="1476.6" stroke="#000" stroke-width="2.7"/>
<line x1="521.0" y1="1443.4" x2="533.5" y2="1443.4" stroke="#000" stroke-width="2.7"/>
<line x1="521.0" y1="1941.1" x2="547.0" y2="1941.1" stroke="#000" stroke-width="2.3"/>
<line x1="521.0" y1="1609.3" x2="547.0" y2="1609.3" stroke="#000" stroke-width="2.3"/>
<line x1="669.4" y1="616.0" x2="789.7" y2="616.0" stroke="#377eb8" stroke-width="2.3" stroke-opacity="0.8"/><circle cx="729.2" cy="616.0" r="6.2" fill="#377eb8"/>
<line x1="669.4" y1="696.4" x2="789.7" y2="696.4" stroke="#ff7f00" stroke-width="2.3" stroke-opacity="0.8"/><circle cx="729.2" cy="696.4" r="6.2" fill="#ff7f00"/>
<line x1="669.4" y1="776.8" x2="789.7" y2="776.8" stroke="#4daf4a" stroke-width="2.3" stroke-opacity="0.8"/><circle cx="729.2" cy="776.8" r="6.2" fill="#4daf4a"/>
<line x1="669.4" y1="857.1" x2="789.7" y2="857.1" stroke="#000000" stroke-width="2.3" stroke-opacity="0.8"/><circle cx="729.2" cy="857.1" r="6.2" fill="#000000"/>
<line x1="669.4" y1="1908.9" x2="789.7" y2="1908.9" stroke="#377eb8" stroke-width="8.6"/>
<line x1="669.4" y1="1989.5" x2="789.7" y2="1989.5" stroke="#ff7f00" stroke-width="8.6"/>
<line x1="669.4" y1="2069.7" x2="789.7" y2="2069.7" stroke="#4daf4a" stroke-width="8.6"/>
<line x1="669.4" y1="2149.9" x2="789.7" y2="2149.9" stroke="#000000" stroke-width="8.6"/>
<text transform="translate(33.44 112.93) scale(0.9355 1)" font-size="176.67">a</text>
<text transform="translate(28.05 1392.82) scale(1.0318 1)" font-size="178.87">b</text>
<text transform="translate(362.54 151.71) scale(1.0072 1)" font-size="88.89">110</text>
<text transform="translate(362.10 366.50) scale(1.0037 1)" font-size="89.63">100</text>
<text transform="translate(410.75 581.32) scale(0.9759 1)" font-size="88.30">90</text>
<text transform="translate(410.20 796.13) scale(1.0025 1)" font-size="86.52">80</text>
<text transform="translate(407.90 1009.48) scale(1.0806 1)" font-size="82.37">70</text>
<text transform="translate(498.74 1094.73) scale(1.0341 1)" font-size="87.26">0</text>
<text transform="translate(932.20 1094.73) scale(1.0035 1)" font-size="87.26">50</text>
<text transform="translate(1361.48 1094.73) scale(1.0343 1)" font-size="87.26">100</text>
<text transform="translate(1817.03 1094.73) scale(1.0269 1)" font-size="87.26">150</text>
<text transform="translate(2246.42 1094.73) scale(0.9980 1)" font-size="87.26">200</text>
<text transform="translate(1157.59 1255.60) scale(1.0253 1)" font-size="89.00">Cycle</text>
<text transform="translate(1396.12 1255.60) scale(1.0248 1)" font-size="89.00">number</text>
<text transform="translate(293.50 984.17) rotate(-90) scale(0.9916 1)" font-size="89.00">Capacity</text>
<text transform="translate(293.50 624.48) rotate(-90) scale(1.0267 1)" font-size="89.00">retention</text>
<text transform="translate(283.67 244.95) rotate(-90) scale(0.9745 1)" font-size="78.22">(</text>
<text transform="translate(293.57 225.20) rotate(-90) scale(0.9740 1)" font-size="95.44">%</text>
<text transform="translate(283.67 143.71) rotate(-90) scale(1.0276 1)" font-size="78.22">)</text>
<text transform="translate(870.00 639.66) scale(0.9691 1)" font-size="64.18">G1</text>
<text transform="translate(870.01 720.06) scale(0.9650 1)" font-size="64.18">G2</text>
<text transform="translate(870.04 800.46) scale(0.9570 1)" font-size="64.18">G3</text>
<text transform="translate(870.01 880.76) scale(0.9644 1)" font-size="64.18">G4</text>
<text transform="translate(870.00 1932.56) scale(0.9691 1)" font-size="64.18">G1</text>
<text transform="translate(870.01 2013.16) scale(0.9650 1)" font-size="64.18">G2</text>
<text transform="translate(870.04 2093.36) scale(0.9570 1)" font-size="64.18">G3</text>
<text transform="translate(870.01 2173.56) scale(0.9644 1)" font-size="64.18">G4</text>
<text transform="translate(454.71 1637.80) scale(0.9483 1)" font-size="83.03">4</text>
<text transform="translate(389.52 1970.23) scale(1.0076 1)" font-size="84.44">3.5</text>
<text transform="translate(451.89 2303.63) scale(1.0245 1)" font-size="86.72">3</text>
<text transform="translate(498.74 2388.53) scale(1.0341 1)" font-size="87.26">0</text>
<text transform="translate(731.39 2387.63) scale(1.0066 1)" font-size="86.57">25</text>
<text transform="translate(985.56 2387.64) scale(1.0141 1)" font-size="85.93">50</text>
<text transform="translate(1238.35 2387.63) scale(1.0155 1)" font-size="87.22">75</text>
<text transform="translate(1469.10 2387.64) scale(1.0335 1)" font-size="85.93">100</text>
<text transform="translate(1723.27 2387.63) scale(1.0259 1)" font-size="86.57">125</text>
<text transform="translate(1977.45 2387.64) scale(1.0335 1)" font-size="85.93">150</text>
<text transform="translate(2231.62 2387.63) scale(1.0259 1)" font-size="86.57">175</text>
<text transform="translate(1264.64 2503.30) scale(1.0197 1)" font-size="89.00">Time</text>
<text transform="translate(1490.64 2496.12) scale(0.9642 1)" font-size="79.44">(</text>
<text transform="translate(1515.89 2503.30) scale(1.0825 1)" font-size="89.00">h</text>
<text transform="translate(1570.26 2496.12) scale(0.9828 1)" font-size="79.44">)</text>
<text transform="translate(313.30 2063.21) rotate(-90) scale(1.0273 1)" font-size="89.00">Voltage</text>
<text transform="translate(305.03 1739.08) rotate(-90) scale(1.0150 1)" font-size="78.44">(</text>
<text transform="translate(313.30 1714.58) rotate(-90) scale(1.0981 1)" font-size="89.00">V</text>
<text transform="translate(305.03 1645.96) rotate(-90) scale(1.0443 1)" font-size="78.44">)</text>
</svg>
</body></html>
